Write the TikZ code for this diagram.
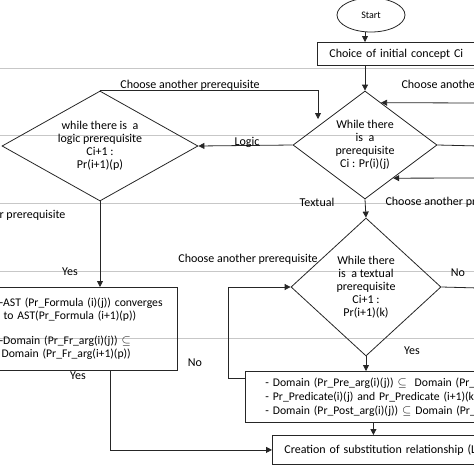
\documentclass[tikz,border=0pt]{standalone}
\usepackage{fontspec}
\setmainfont{Carlito}
\usetikzlibrary{shapes.geometric, arrows.meta, calc}

\begin{document}
\begin{tikzpicture}[x=1pt, y=-1pt,
    font=\fontsize{12}{13}\selectfont,
    flow/.style={draw=black!85, line width=0.8pt},
    flowarrow/.style={flow, -{Triangle[length=6pt,width=6pt]}},
    block/.style={flow, rectangle, align=left, inner ysep=0pt},
    decision/.style={flow, diamond, inner sep=0pt},
    guide/.style={draw=black!22, line width=0.6pt}]
    % Parameters
    \def\w{474}
    \clip (0,0) rectangle (\w,\w);

    % Faint ruled lines of the scanned page
    \foreach \y in {68,135,203,271,338}
        \draw[guide] (0,\y) -- (\w,\y);

    % Start and first concept
    \node[flow, ellipse, minimum width=68, minimum height=34, font=\fontsize{10}{12}\selectfont] (start) at (371,15) {Start};
    \node[block, anchor=north west, text width=150, inner xsep=12, minimum height=23] (choice) at (317,42) {Choice of initial concept Ci};

    % Decisions
    \node[decision, minimum width=144, minimum height=108] (pre) at (365,145) {};
    \node[align=center] at (pre) {While there\\is \ a\\prerequisite\\Ci : Pr(i)(j)};
    \node[decision, minimum width=196, minimum height=110] (logic) at (100,146) {};
    \node[align=center] at (logic) {while there is \ a\\logic prerequisite\\Ci+1 :\\Pr(i+1)(p)};
    \node[decision, minimum width=150, minimum height=138] (textual) at (366,287) {};
    \node[align=center] at (textual) {While there\\is \ a textual\\prerequisite\\Ci+1 :\\Pr(i+1)(k)};

    % Condition boxes
    \node[block, anchor=north east, text width=174, inner xsep=4, minimum height=83,
          font=\fontsize{11.7}{12.7}\selectfont] (ast) at (178,287)
        {\mbox{-AST (Pr\_Formula (i)(j)) converges}\\
         \hspace*{4pt}to AST(Pr\_Formula (i+1)(p))\\[12.7pt]
         -Domain (Pr\_Fr\_arg(i)(j)) $\subseteq$\\
         \hspace*{2pt}Domain (Pr\_Fr\_arg(i+1)(p))};
    \node[block, anchor=north west, text width=216, inner xsep=20, minimum height=51,
          font=\fontsize{11.7}{14}\selectfont] (domain) at (245,371)
        {\mbox{- Domain (Pr\_Pre\_arg(i)(j)) $\subseteq$ \ Domain (Pr\_Pre\_arg(i+1)(k))}\\
         \mbox{- Pr\_Predicate(i)(j) and Pr\_Predicate (i+1)(k)}\\
         \mbox{- Domain (Pr\_Post\_arg(i)(j)) $\subseteq$ Domain (Pr\_Post\_arg(i+1)(k))}};
    \node[block, anchor=north west, text width=200, inner xsep=12, minimum height=29] (creation) at (272,435)
        {\mbox{Creation of substitution relationship (L)}};

    % Free ends at the cut edges
    \coordinate (in1) at (\w+5,103);
    \coordinate (in2) at (\w+5,178);
    \coordinate (out1) at (\w+5,146);
    \coordinate (out2) at (\w+5,288);
    \coordinate (back1) at (318,119);

    % Connectors
    \draw[flowarrow] (pre.north |- start.south) -- (pre.north |- choice.north);
    \draw[flowarrow] (pre.north |- choice.south) -- (pre.north);
    \draw[flowarrow] (pre.west) -- (logic.east);
    \draw[flowarrow] (logic.north) -| (back1);
    \draw[flowarrow] (in1) -- ($(pre.north)!0.222!(pre.east)$);
    \draw[flowarrow] (in2) -- ($(pre.south)!0.39!(pre.east)$);
    \draw[flow] (pre.east) -- (out1);
    \draw[flowarrow] (pre.south) -- (textual.north);
    \draw[flow] (textual.east) -- (out2);
    \draw[flowarrow] (logic.south) -- (logic.south |- ast.north);
    \draw[flowarrow] (textual.south) -- (textual.south |- domain.north);
    \draw[flowarrow] ($(domain.north west)+(0,7)$) -- ++(-17,0) |- (textual.west);
    \draw[flowarrow] (domain.south) -- (domain.south |- creation.north);
    \draw[flowarrow] ($(ast.south east)+(-68,0)$) |- (creation.west);

    % Labels
    \node at (247,142) {Logic};
    \node at (190,85) {Choose another prerequisite};
    \node[anchor=west] at (398,85) {Choose another prerequisite};
    \node[anchor=east] at (69,215) {Choose another prerequisite};
    \node at (317,202) {Textual};
    \node[anchor=west] at (382,202) {Choose another prerequisite};
    \node at (248,259) {Choose another prerequisite};
    \node at (458,273) {No};
    \node at (70,272) {Yes};
    \node at (412,351) {Yes};
    \node at (195,363) {No};
    \node at (78,376) {Yes};
\end{tikzpicture}
\end{document}
